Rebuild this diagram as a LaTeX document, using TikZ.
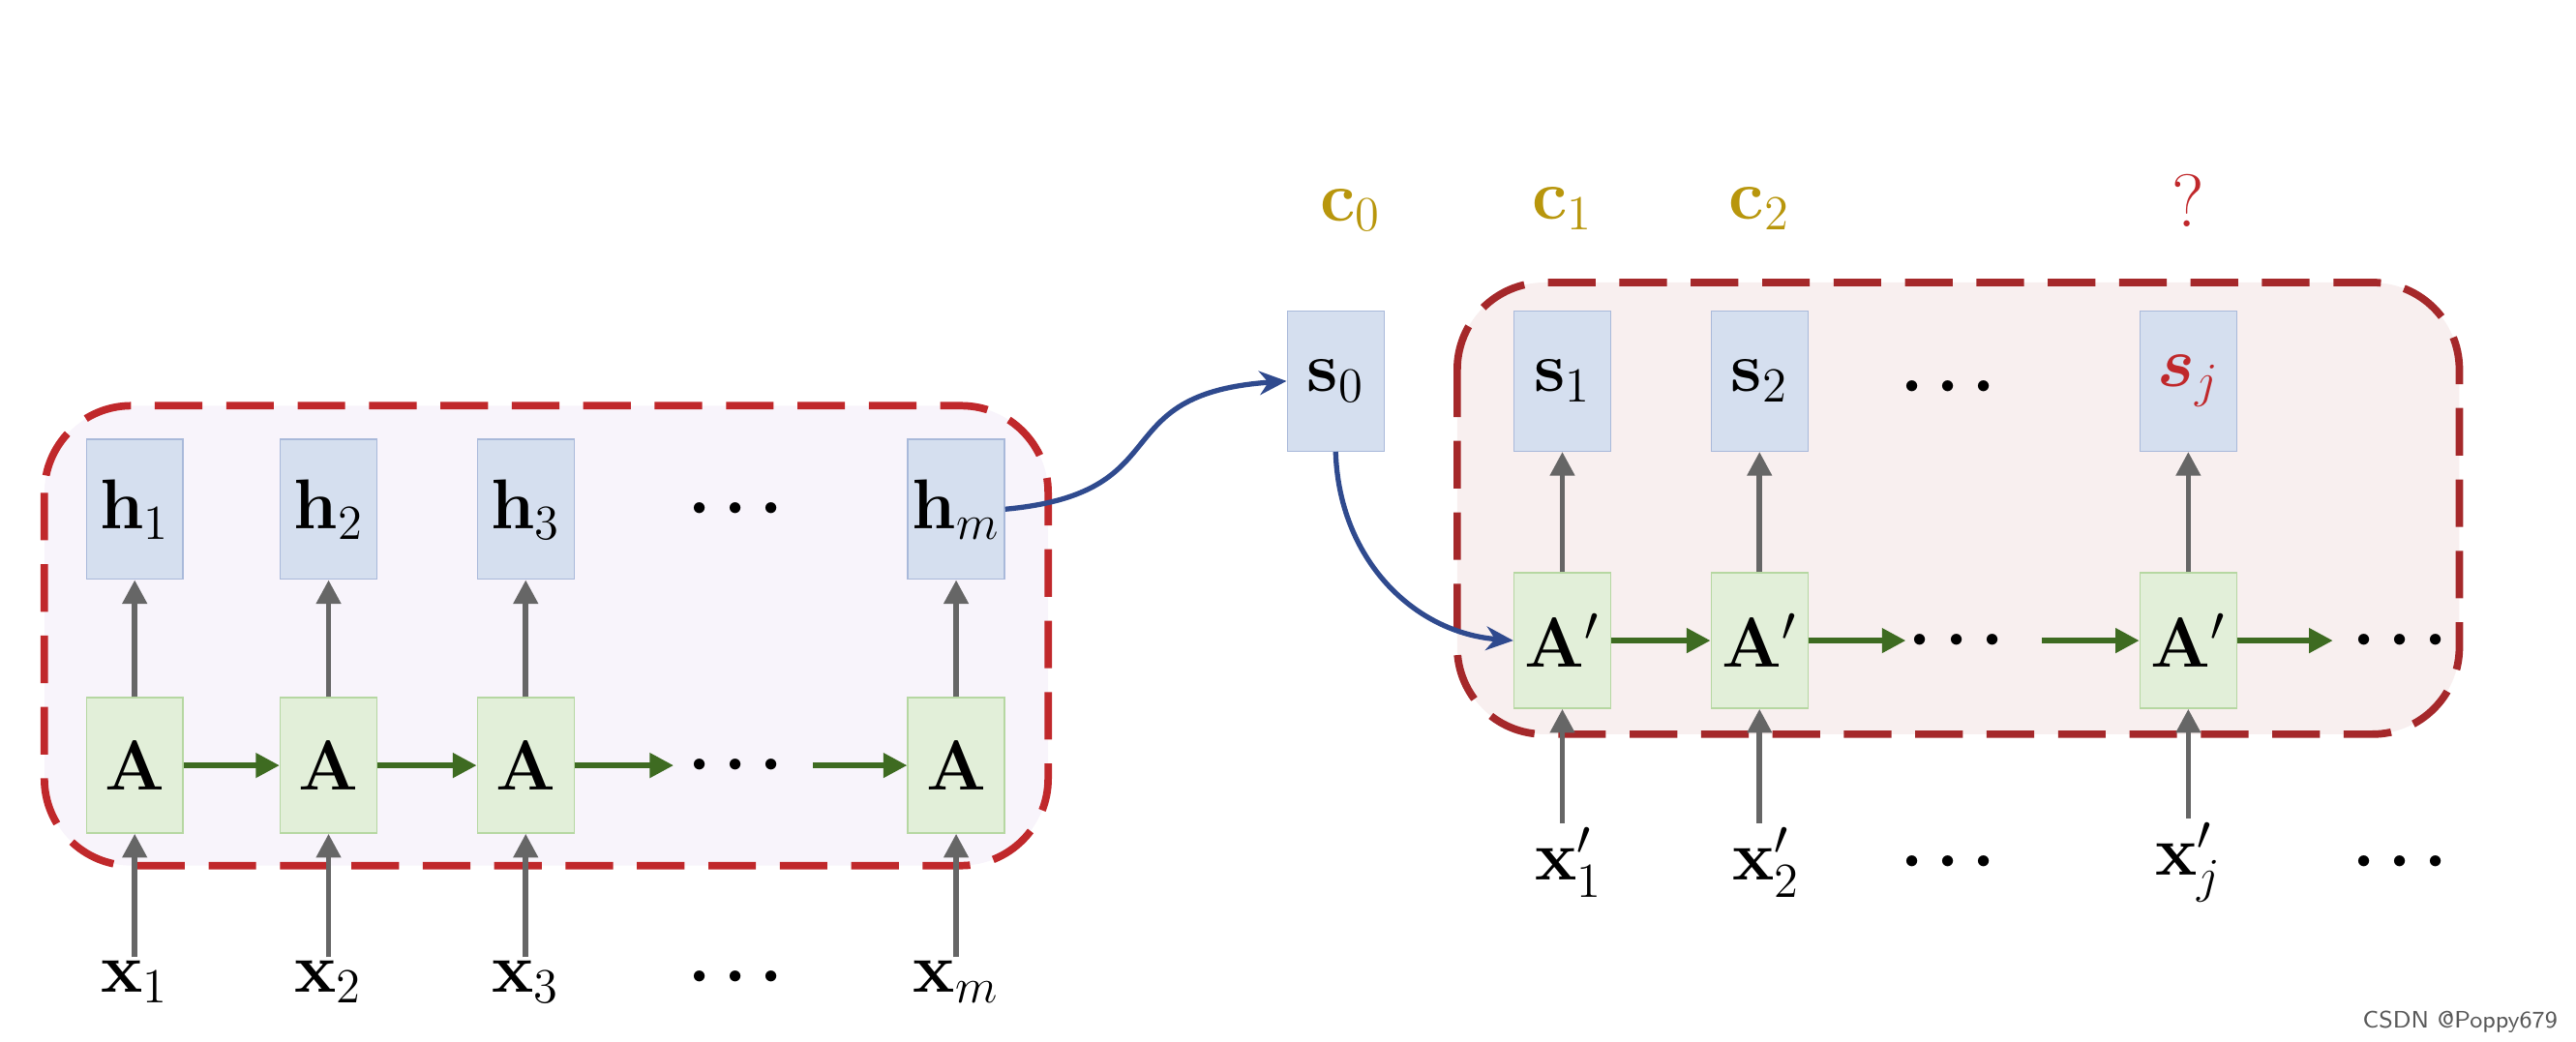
\documentclass[tikz,border=0pt]{standalone}
\usepackage{amsmath,bm}
\usetikzlibrary{arrows.meta,positioning}
\definecolor{hfill}{HTML}{D5DFEF}
\definecolor{hdraw}{HTML}{A9B9DA}
\definecolor{afill}{HTML}{E2EFD9}
\definecolor{adraw}{HTML}{B6D7A2}
\definecolor{encfill}{HTML}{F8F4FB}
\definecolor{decfill}{HTML}{F8EFEF}
\definecolor{boxred}{HTML}{C0282B}
\definecolor{decred}{HTML}{A5282A}
\definecolor{cgold}{HTML}{B8960C}
\definecolor{arrgreen}{HTML}{3E6B21}
\definecolor{arrblue}{HTML}{2F4A8E}
\begin{document}
\begin{tikzpicture}[x=0.01698cm,y=-0.01698cm,
  hbox/.style={draw=hdraw,fill=hfill,minimum width=1cm,minimum height=1.45cm,inner sep=0pt,font=\fontsize{22}{26}\selectfont},
  abox/.style={draw=adraw,fill=afill,minimum width=1cm,minimum height=1.4cm,inner sep=0pt,font=\fontsize{22}{26}\selectfont},
  lab/.style={inner sep=1pt,font=\fontsize{22}{26}\selectfont},
  up/.style={-{Triangle[length=7pt,width=7pt]},line width=1.6pt,draw=gray!80!black},
  rec/.style={-{Triangle[length=7pt,width=7pt]},line width=1.6pt,draw=arrgreen},
  link/.style={-{Stealth[length=8pt,width=7pt]},line width=1.5pt,draw=arrblue},
  group/.style={dashed,line width=2.2pt,dash pattern=on 14pt off 7pt,rounded corners=0.9cm}]
  \useasboundingbox (0,0) rectangle (1568,634);

  % encoder
  \draw[group,draw=boxred,fill=encfill] (27,247) rectangle (638,527);
  \foreach \i/\x in {1/82,2/200,3/320} {
    \node[hbox] (h\i) at (\x,310) {$\mathbf{h}_\i$};
    \node[abox] (a\i) at (\x,466) {$\mathbf{A}$};
    \node[lab] (x\i) at (\x,598) {$\mathbf{x}_\i$};
    \draw[up] (x\i) -- (a\i);
    \draw[up] (a\i) -- (h\i);
  }
  \node[hbox] (hm) at (582,310) {$\mathbf{h}_m$};
  \node[abox] (am) at (582,466) {$\mathbf{A}$};
  \node[lab] (xm) at (582,598) {$\mathbf{x}_m$};
  \draw[up] (xm) -- (am);
  \draw[up] (am) -- (hm);
  \node[lab] (hdots) at (452,310) {$\bm{\cdots}$};
  \node[lab] (adots) at (452,466) {$\bm{\cdots}$};
  \node[lab] (xdots) at (452,595) {$\bm{\cdots}$};
  \coordinate (aend) at (410,466);
  \coordinate (astart) at (495,466);
  \draw[rec] (a1) -- (a2);
  \draw[rec] (a2) -- (a3);
  \draw[rec] (a3) -- (aend);
  \draw[rec] (astart) -- (am);

  % decoder
  \draw[group,draw=decred,fill=decfill] (887,172) rectangle (1497,447);
  \node[hbox] (s0) at (813,232) {$\mathbf{s}_0$};
  \node[lab,text=cgold] (c0) at (822,128) {$\mathbf{c}_0$};
  \foreach \i/\x in {1/951,2/1071} {
    \node[hbox] (s\i) at (\x,232) {$\mathbf{s}_\i$};
    \node[lab,text=cgold] (c\i) at (\x,127) {$\mathbf{c}_\i$};
    \node[abox] (b\i) at (\x,390) {$\mathbf{A}'$};
    \node[lab] (y\i) at (\x+4,525) {$\mathbf{x}'_\i$};
    \draw[up] (y\i.north -| b\i) -- (b\i);
    \draw[up] (b\i) -- (s\i);
  }
  \node[hbox] (sj) at (1332,232) {$\color{boxred}\bm{s}_j$};
  \node[lab,text=boxred] (q) at (1332,122) {?};
  \node[abox] (bj) at (1332,390) {$\mathbf{A}'$};
  \node[lab] (yj) at (1332,525) {$\mathbf{x}'_j$};
  \draw[up] (yj) -- (bj);
  \draw[up] (bj) -- (sj);
  \node[lab] (sdots) at (1190,236) {$\bm{\cdots}$};
  \node[lab] (bdots) at (1195,390) {$\bm{\cdots}$};
  \node[lab] (bdots2) at (1465,390) {$\bm{\cdots}$};
  \node[lab] (ydots) at (1190,525) {$\bm{\cdots}$};
  \node[lab] (ydots2) at (1465,525) {$\bm{\cdots}$};
  \coordinate (bend) at (1160,390);
  \coordinate (bstart) at (1243,390);
  \coordinate (bout) at (1420,390);
  \draw[rec] (b1) -- (b2);
  \draw[rec] (b2) -- (bend);
  \draw[rec] (bstart) -- (bj);
  \draw[rec] (bj) -- (bout);

  % links
  \draw[link] (hm.east) .. controls (720,300) and (670,240) .. (s0.west);
  \draw[link] (s0.south) .. controls (815,340) and (860,385) .. (b1.west);

  \node[anchor=east,text=gray!70!black,font=\sffamily\scriptsize] (mark) at (1564,622) {CSDN @Poppy679};
\end{tikzpicture}
\end{document}
